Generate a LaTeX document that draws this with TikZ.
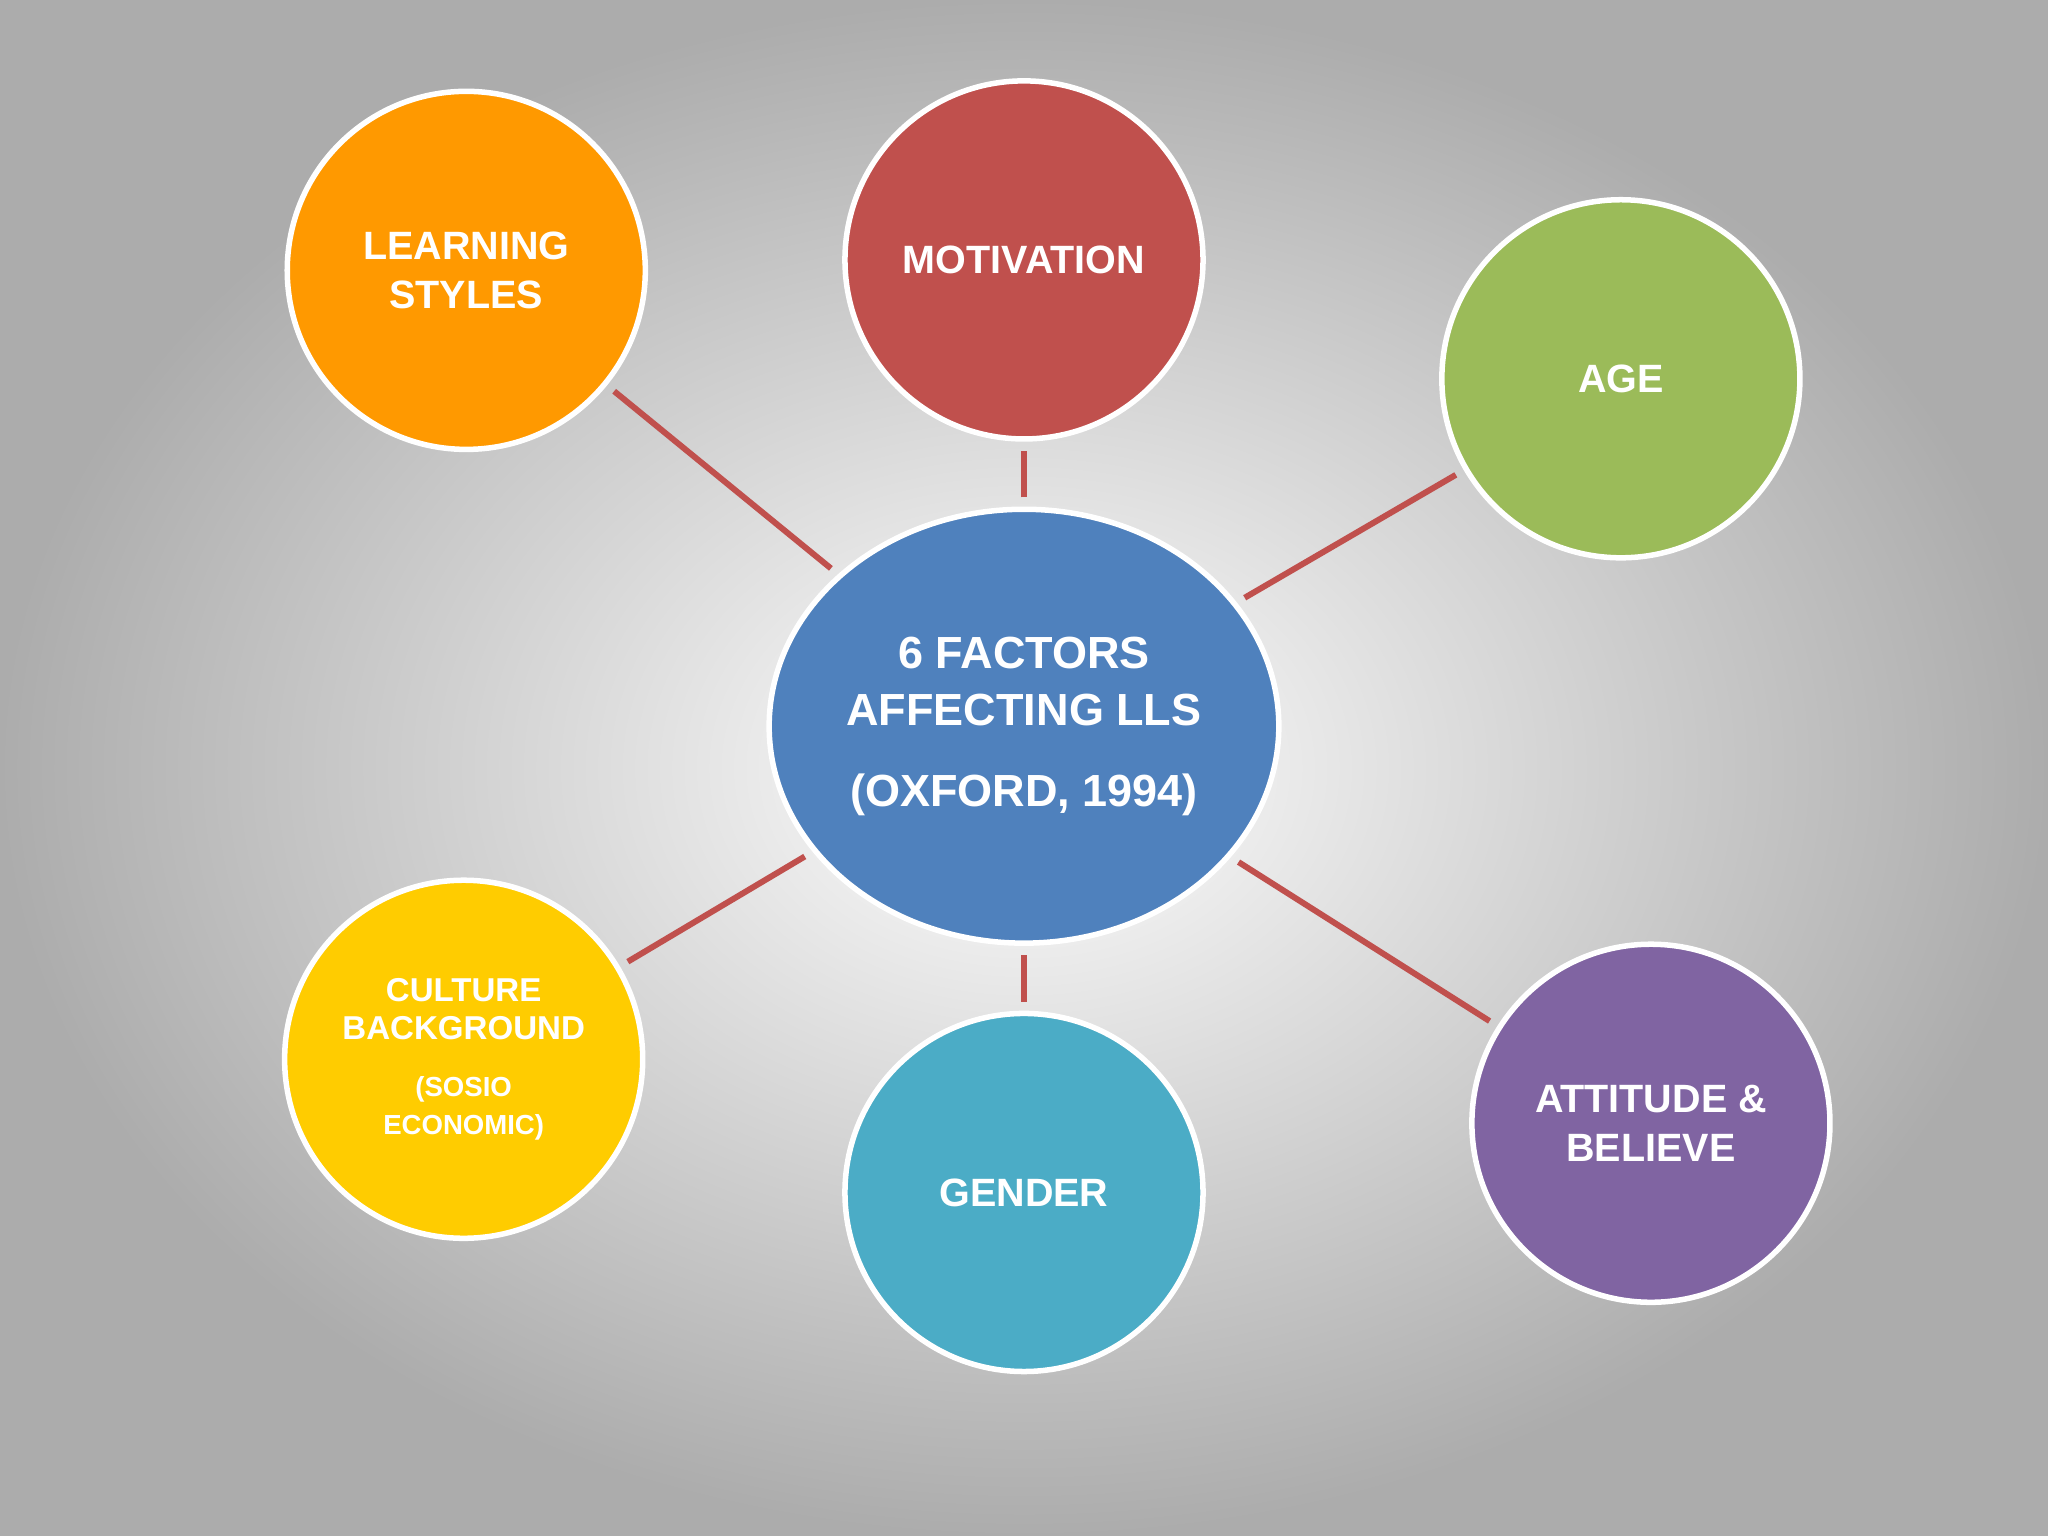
\documentclass[tikz,border=0pt]{standalone}
\usepackage{fontspec}
\setmainfont{Liberation Sans}
\usetikzlibrary{shapes.geometric}
\begin{document}
\begin{tikzpicture}[x=0.01cm,y=-0.01cm,
  bub/.style={circle,draw=white,line width=1.2pt,minimum size=2.74cm,inner sep=0pt,text=white,font=\bfseries\fontsize{8.6}{10.5}\selectfont,align=center},
  link/.style={color={rgb,255:red,192;green,80;blue,77},line width=1.3pt,shorten <=2pt,shorten >=2pt}]
\shade[inner color=white,outer color=gray!65] (0,0) rectangle (1568,1176);
\useasboundingbox (0,0) rectangle (1568,1176);
\definecolor{cblue}{RGB}{79,129,189}
\node[ellipse,draw=white,line width=1.2pt,fill=cblue,minimum width=3.9cm,minimum height=3.32cm,inner sep=0pt,text=white,font=\bfseries\fontsize{9.8}{12.5}\selectfont,align=center] (c) at (784,556) {6 FACTORS\\AFFECTING LLS\\[5pt](OXFORD, 1994)};
\node[bub,fill={rgb,255:red,255;green,153;blue,0}] (ls) at (357,207) {LEARNING\\STYLES};
\node[bub,fill={rgb,255:red,192;green,80;blue,77}] (mo) at (784,199) {MOTIVATION};
\node[bub,fill={rgb,255:red,155;green,187;blue,89}] (ag) at (1241,290) {AGE};
\node[bub,fill={rgb,255:red,255;green,204;blue,0},font=\bfseries\fontsize{7.2}{8.3}\selectfont] (cu) at (355,811) {CULTURE\\BACKGROUND\\[4pt]{\fontsize{6}{8.3}\selectfont (SOSIO}\\{\fontsize{6}{8.3}\selectfont ECONOMIC)}};
\node[bub,fill={rgb,255:red,75;green,172;blue,198}] (ge) at (784,913) {GENDER};
\node[bub,fill={rgb,255:red,128;green,100;blue,162}] (at) at (1264,860) {ATTITUDE \&\\BELIEVE};
\foreach \n in {ls,mo,ag,cu,ge,at} \draw[link] (c) -- (\n);
\end{tikzpicture}
\end{document}
